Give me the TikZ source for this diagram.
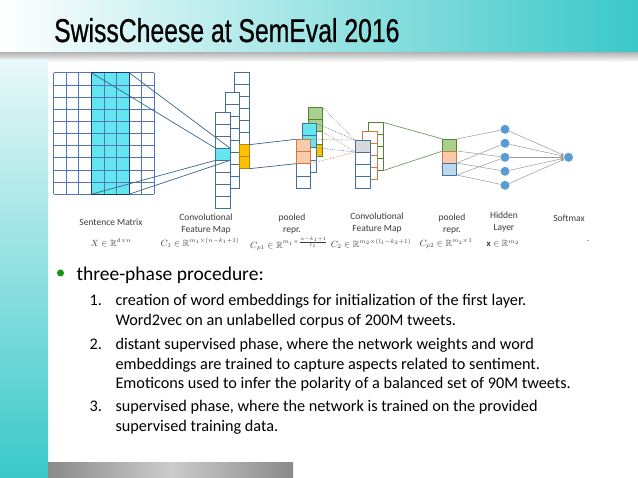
\documentclass[tikz,border=0pt]{standalone}
\usepackage{amsmath, amssymb}
\usepackage{fontspec}
\setmainfont{Carlito}
\newfontfamily\titlefont[FakeStretch=0.75,FakeBold=0.6]{Liberation Sans}
\definecolor{teal1}{RGB}{58,200,200}
\definecolor{stripTop}{RGB}{232,248,248}
\definecolor{barDark}{RGB}{138,138,138}
\definecolor{barLight}{RGB}{204,204,204}
\definecolor{matblue}{RGB}{80,118,190}
\definecolor{colblue}{RGB}{65,113,156}
\definecolor{navy}{RGB}{31,56,100}
\definecolor{cyanfill}{RGB}{100,230,240}
\definecolor{yellowfill}{RGB}{255,192,0}
\definecolor{peach}{RGB}{248,203,173}
\definecolor{orangeline}{RGB}{214,120,60}
\definecolor{greenfill}{RGB}{169,209,142}
\definecolor{greenline}{RGB}{84,130,53}
\definecolor{greycell}{RGB}{217,217,217}
\definecolor{lightblue}{RGB}{189,215,238}
\definecolor{nodeblue}{RGB}{91,155,213}
\definecolor{labelgray}{RGB}{60,60,60}
\definecolor{bulletgreen}{RGB}{20,150,20}

\begin{document}
\begin{tikzpicture}[x=1pt,y=-1pt,
  gridline/.style={draw=matblue,line width=0.6pt},
  hlbox/.style={draw=navy,line width=1.1pt},
  cellbox/.style={draw=colblue,fill=white,line width=0.7pt},
  cellsep/.style={draw=colblue,line width=0.5pt},
  link/.style={draw=colblue!80!navy,line width=0.7pt},
  dotlink/.style={densely dotted,line width=0.6pt},
  graylink/.style={draw=black!40,line width=0.5pt},
  neuron/.style={circle,fill=nodeblue,minimum size=9pt,inner sep=0pt},
  lbl/.style={font=\fontsize{9.5}{12}\selectfont,text=labelgray,align=center},
  mlbl/.style={font=\fontsize{9}{10}\selectfont,text=labelgray},
  itemtext/.style={anchor=base west,font=\fontsize{16.25}{19}\selectfont}]
\useasboundingbox (0,0) rectangle (638,478);
\fill[white] (0,0) rectangle (638,478);
% slide frame
\shade[top color=black!30,bottom color=white] (0,52) rectangle (638,62);
\shade[top color=stripTop,bottom color=teal1] (0,60) rectangle (48,478);
\shade[left color=white,right color=teal1] (0,0) rectangle (638,52);
\shade[left color=barDark,right color=barDark,middle color=barLight] (48,463) rectangle (293,478);
\node[anchor=base west,inner sep=0pt,font=\titlefont\fontsize{33}{36}\selectfont] (title) at (54,42) {SwissCheese at SemEval 2016};
% sentence matrix
\fill[cyanfill] (91.3,72.7) rectangle (129.1,194.2);
\foreach \i in {0,...,8} \draw[gridline] ({53.5+12.6*\i},72.7) -- ({53.5+12.6*\i},194.2);
\foreach \j in {0,...,10} \draw[gridline] (53.5,{72.7+12.15*\j}) -- (154.3,{72.7+12.15*\j});
\draw[hlbox] (91.3,72.7) coordinate (w_tl) rectangle (129.1,194.2) coordinate (w_br);
\coordinate (w_tr) at (129.1,72.7);
\coordinate (w_bl) at (91.3,194.2);
% feature map 1
\draw[cellbox] (234.7,72.7) rectangle (249.2,168.7);
\foreach \k in {1,...,7} \draw[cellsep] (234.7,{72.7+12*\k}) -- (249.2,{72.7+12*\k});
\draw[cellbox] (225.2,92.5) rectangle (239.7,188.5);
\foreach \k in {1,...,7} \draw[cellsep] (225.2,{92.5+12*\k}) -- (239.7,{92.5+12*\k});
\draw[draw=yellowfill!70!black,fill=yellowfill,line width=0.6pt] (239.7,144.7) coordinate (y_tl) rectangle (249.2,168.7) coordinate (y_br);
\draw[draw=yellowfill!70!black,line width=0.6pt] (239.7,156.7) -- (249.2,156.7);
\coordinate (y_tr) at (249.2,144.7);
\draw[cellbox] (215.7,112.3) rectangle (230.2,208.3);
\foreach \k in {1,...,7} \draw[cellsep] (215.7,{112.3+12*\k}) -- (230.2,{112.3+12*\k});
\draw[cellbox,fill=cyanfill] (215.7,148.3) coordinate (c1_tl) rectangle (230.2,160.3) coordinate (c1_br);
\coordinate (c1_tr) at (230.2,148.3);
\coordinate (c1_bl) at (215.7,160.3);
\draw[link] (w_tl) -- (c1_tl) (w_tr) -- (c1_tr) (w_bl) -- (c1_bl) (w_br) -- (c1_br);
% pooled 1
\draw[draw=greenline,fill=white,line width=0.7pt] (308.4,107.3) coordinate (pb_tl) rectangle (322.4,156.1);
\fill[greenfill] (308.4,107.3) rectangle (322.4,131.7);
\fill[yellowfill] (308.4,143.9) rectangle (322.4,156.1);
\foreach \k in {1,2,3} \draw[draw=greenline,line width=0.5pt] (308.4,{107.3+12.2*\k}) -- (322.4,{107.3+12.2*\k});
\draw[draw=greenline,line width=0.7pt] (308.4,107.3) rectangle (322.4,156.1);
\draw[cellbox] (302.2,123.3) rectangle (316.2,172.1);
\fill[cyanfill] (302.2,123.3) rectangle (316.2,147.7);
\foreach \k in {1,2,3} \draw[cellsep] (302.2,{123.3+12.2*\k}) -- (316.2,{123.3+12.2*\k});
\draw[cellbox,fill=none] (302.2,123.3) rectangle (316.2,172.1);
\draw[cellbox] (296,139.3) coordinate (pf_tl) rectangle (310,188.1);
\foreach \k in {1,2,3} \draw[cellsep] (296,{139.3+12.2*\k}) -- (310,{139.3+12.2*\k});
\draw[draw=orangeline,fill=peach,line width=0.6pt] (296,139.3) rectangle (310,163.7);
\draw[draw=orangeline,line width=0.5pt] (296,151.5) -- (310,151.5);
\coordinate (pf_bl) at (296,163.7);
\draw[link] (y_tr) -- (pf_tl);
\draw[link] (y_br) -- (pf_bl);
% feature map 2
\draw[draw=greenline,fill=white,line width=0.7pt] (368.5,122.5) rectangle (383.5,170.5);
\foreach \k in {1,2,3} \draw[draw=greenline,line width=0.5pt] (376,{122.5+12*\k}) -- (383.5,{122.5+12*\k});
\coordinate (g2_tr) at (383.5,122.5);
\coordinate (g2_br) at (383.5,170.5);
\draw[draw=orangeline,fill=white,line width=0.7pt] (362,131.3) rectangle (377,179.3);
\foreach \k in {1,2,3} \draw[draw=orangeline,line width=0.5pt] (370,{131.3+12*\k}) -- (377,{131.3+12*\k});
\draw[cellbox] (355,140) rectangle (370,188);
\foreach \k in {1,2,3} \draw[cellsep] (355,{140+12*\k}) -- (370,{140+12*\k});
\draw[cellbox,fill=greycell] (355,140) coordinate (g_tl) rectangle (370,152);
\coordinate (g_bl) at (355,152);
\draw[dotlink,draw=black!45] (322.4,107.3) -- (g_tl) (322.4,131.7) -- (g_bl);
\draw[dotlink,draw=colblue] (316.2,123.3) -- (g_tl) (316.2,147.7) -- (g_bl);
\draw[dotlink,draw=orangeline] (310,139.3) -- (g_tl) (310,163.7) -- (g_bl);
% pooled 2
\draw[draw=greenline,fill=greenfill,line width=0.7pt] (442.7,139) coordinate (p2a_l) rectangle (456.7,151);
\draw[draw=orangeline,fill=peach,line width=0.7pt] (442.7,151) coordinate (p2b_l) rectangle (456.7,163);
\draw[draw=colblue,fill=lightblue,line width=0.7pt] (442.7,163) rectangle (456.7,175);
\draw[draw=greenline!80,line width=0.7pt] (g2_tr) -- (p2a_l) (g2_br) -- (p2b_l);
\coordinate (p2a) at (456.7,139);
\coordinate (p2b) at (456.7,151);
\coordinate (p2c) at (456.7,163);
\coordinate (p2d) at (456.7,175);
% hidden layer and softmax
\node[neuron] (h1) at (505,129.3) {};
\node[neuron] (h2) at (505,143.3) {};
\node[neuron] (h3) at (505,157.3) {};
\node[neuron] (h4) at (505,171.3) {};
\node[neuron] (h5) at (505,185.3) {};
\node[neuron] (sm) at (568.5,157.3) {};
\draw[graylink] (p2a) -- (h1) (p2b) -- (h3) (p2c) -- (h2) (p2c) -- (h4) (p2d) -- (h5) (p2d) -- (h3);
\foreach \n in {1,...,5} \draw[graylink,-stealth] (h\n) -- (sm);
% labels
\node[lbl] (l_sm) at (111,222) {Sentence Matrix};
\node[lbl] (l_c1) at (206,224) {Convolutional\\Feature Map};
\node[lbl] (l_p1) at (292,224) {pooled\\repr.};
\node[lbl] (l_c2) at (377,223) {Convolutional\\Feature Map};
\node[lbl] (l_p2) at (452,224) {pooled\\repr.};
\node[lbl] (l_h) at (504,222) {Hidden\\Layer};
\node[lbl] (l_s) at (569,218) {Softmax};
\node[mlbl] (m_x) at (111,243) {$X \in \mathbb{R}^{d\times n}$};
\node[mlbl] (m_c1) at (200,243) {$C_1 \in \mathbb{R}^{m_1\times(n-k_1+1)}$};
\node[mlbl] (m_p1) at (289,244) {$C_{p1} \in \mathbb{R}^{m_1\times\frac{n-k_1+1}{l_1}}$};
\node[mlbl] (m_c2) at (371,244) {$C_2 \in \mathbb{R}^{m_2\times(l_1-k_2+1)}$};
\node[mlbl] (m_p2) at (446,244) {$C_{p2} \in \mathbb{R}^{m_2\times 1}$};
\node[mlbl] (m_h) at (503,244) {$\mathbf{x} \in \mathbb{R}^{m_2}$};
\node[mlbl] (m_d) at (588,241) {.};
% bullet text
\node[circle,fill=bulletgreen,minimum size=7pt,inner sep=0pt] (bul) at (60.5,273) {};
\node[anchor=base west,font=\fontsize{19.5}{22}\selectfont] (intro) at (73,281) {three-phase procedure:};
\node[itemtext] (n1) at (86,306) {1.};
\node[itemtext] (t1a) at (112,306) {creation of word embeddings for initialization of the first layer.};
\node[itemtext] (t1b) at (112,326) {Word2vec on an unlabelled corpus of 200M tweets.};
\node[itemtext] (n2) at (86,350) {2.};
\node[itemtext] (t2a) at (112,350) {distant supervised phase, where the network weights and word};
\node[itemtext] (t2b) at (112,369.5) {embeddings are trained to capture aspects related to sentiment.};
\node[itemtext] (t2c) at (112,389) {Emoticons used to infer the polarity of a balanced set of 90M tweets.};
\node[itemtext] (n3) at (86,412) {3.};
\node[itemtext] (t3a) at (112,412) {supervised phase, where the network is trained on the provided};
\node[itemtext] (t3b) at (112,432) {supervised training data.};
\end{tikzpicture}
\end{document}
